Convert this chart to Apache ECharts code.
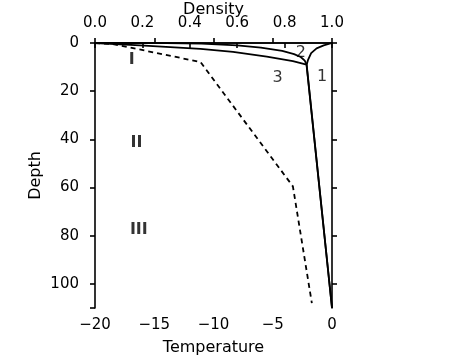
<!DOCTYPE html>
<html><head><meta charset="utf-8">
<script src="https://cdn.jsdelivr.net/npm/echarts@6/dist/echarts.min.js"></script>
<style>html,body{margin:0;padding:0;background:#fff}#c{width:474px;height:355px}</style>
</head><body><div id="c"></div>
<script>
// Curve 1 (density): [density, depth]
var curve1 = [[1.0,0],[0.965,1],[0.935,2.2],[0.912,4.2],[0.899,7],[0.893,9],[1.0,110]];
// Curve 2 (density): [density, depth]
var curve2 = [[0.0,0],[0.3,0.05],[0.45,0.3],[0.6,1.0],[0.7,1.9],[0.79,3.3],[0.84,4.6],[0.868,5.8],[0.885,7.3],[0.893,9]];
// Curve 3 (temperature, solid): [temperature, depth]
var curve3 = [[-20,0],[-16.2,0.95],[-11.1,2.4],[-8.35,3.7],[-5.5,5.7],[-3.3,7.5],[-2.15,9],[0,110]];
// Dashed temperature profile: [temperature, depth]
var dashed = [[-20,0],[-18.5,0.4],[-11.1,7.9],[-3.3,59.5],[-1.7,108]];
// Zone labels (temperature axis): [temperature, depth, text]
var zoneLabels = [[-16.9,7,'I'],[-16.5,41.5,'II'],[-16.3,77.6,'III']];
// Curve labels: [x, depth, text]
var curveLabelsDensity = [[0.958,14,'1'],[0.869,3.9,'2']];
var curveLabelsTemp = [[-4.6,14.5,'3']];
var tempTicks = [-20,-15,-10,-5,0];
var densTicks = [0.0,0.2,0.4,0.6,0.8,1.0];
var depthTicks = [0,20,40,60,80,100];

var FONT = 'DejaVu Sans';
var minus = function(v){ return String(v).replace('-', '\u2212'); };
var axisLineS = {show:true, lineStyle:{color:'#000', width:1.6}};
var tickS = {show:true, inside:true, length:5, lineStyle:{color:'#000', width:1.6}};
var chart = echarts.init(document.getElementById('c'), null, {renderer:'canvas'});
chart.setOption({
  animation:false,
  backgroundColor:'#fff',
  textStyle:{fontFamily:FONT},
  grid:{left:95, right:142, top:43, bottom:47, containLabel:false, outerBoundsMode:'none'},
  xAxis:[
    {type:'value', position:'bottom', min:tempTicks[0], max:tempTicks[tempTicks.length-1], interval:5,
     name:'Temperature', nameLocation:'middle', nameGap:32, nameMoveOverlap:false,
     nameTextStyle:{fontFamily:FONT, fontSize:16, color:'#000'},
     axisLine:axisLineS, axisTick:tickS, splitLine:{show:false},
     axisLabel:{fontFamily:FONT, fontSize:15, color:'#000', margin:10, formatter:function(v){return minus(v);}}},
    {type:'value', position:'top', min:densTicks[0], max:densTicks[densTicks.length-1], interval:0.2,
     name:'Density', nameLocation:'middle', nameGap:25, nameMoveOverlap:false,
     nameTextStyle:{fontFamily:FONT, fontSize:16, color:'#000'},
     axisLine:axisLineS, axisTick:tickS, splitLine:{show:false},
     axisLabel:{fontFamily:FONT, fontSize:15, color:'#000', margin:12, formatter:function(v){return v.toFixed(1);}}}
  ],
  yAxis:[
    {type:'value', position:'left', inverse:true, min:0, max:110, interval:20,
     name:'Depth', nameLocation:'middle', nameGap:51, nameMoveOverlap:false,
     nameTextStyle:{fontFamily:FONT, fontSize:16, color:'#000'},
     axisLine:axisLineS, axisTick:tickS, splitLine:{show:false},
     axisLabel:{fontFamily:FONT, fontSize:15, color:'#000', margin:16, showMaxLabel:false,
       formatter:function(v){return depthTicks.indexOf(v)>=0 ? String(v) : '';}}},
    {type:'value', position:'right', inverse:true, min:0, max:110, interval:20,
     axisLine:axisLineS, axisTick:tickS, splitLine:{show:false}, axisLabel:{show:false}}
  ],
  series:[
    {type:'line', xAxisIndex:1, yAxisIndex:0, data:curve1, symbol:'none', smooth:false,
     lineStyle:{color:'#000', width:1.8}},
    {type:'line', xAxisIndex:1, yAxisIndex:0, data:curve2, symbol:'none', smooth:false,
     lineStyle:{color:'#000', width:1.8}},
    {type:'line', xAxisIndex:0, yAxisIndex:0, data:curve3, symbol:'none', smooth:false,
     lineStyle:{color:'#000', width:1.8}},
    {type:'line', xAxisIndex:0, yAxisIndex:0, data:dashed, symbol:'none', smooth:false,
     lineStyle:{color:'#000', width:1.8, type:[5,4]}},
    {type:'scatter', xAxisIndex:0, yAxisIndex:0, symbolSize:0, silent:true,
     data:zoneLabels.map(function(d){return {value:[d[0],d[1]], name:d[2]};}),
     label:{show:true, position:'inside', formatter:'{b}', fontFamily:FONT, fontSize:16, fontWeight:'bold', color:'#000'}},
    {type:'scatter', xAxisIndex:1, yAxisIndex:0, symbolSize:0, silent:true,
     data:curveLabelsDensity.map(function(d){return {value:[d[0],d[1]], name:d[2]};}),
     label:{show:true, position:'inside', formatter:'{b}', fontFamily:FONT, fontSize:16, color:'#000'}},
    {type:'scatter', xAxisIndex:0, yAxisIndex:0, symbolSize:0, silent:true,
     data:curveLabelsTemp.map(function(d){return {value:[d[0],d[1]], name:d[2]};}),
     label:{show:true, position:'inside', formatter:'{b}', fontFamily:FONT, fontSize:16, color:'#000'}}
  ]
});
</script></body></html>
